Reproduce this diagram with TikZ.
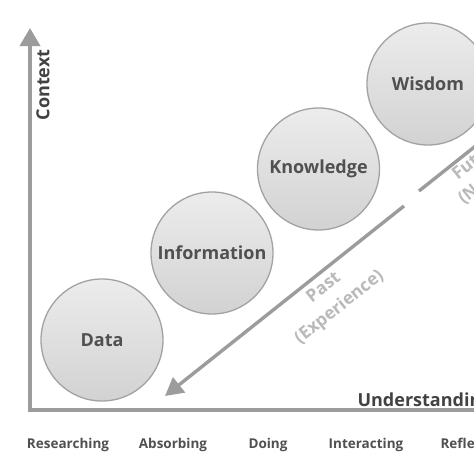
\documentclass[tikz,border=0pt]{standalone}
\usepackage{fontspec}
\setmainfont{Open Sans}
\usetikzlibrary{arrows.meta}
\definecolor{axisgray}{HTML}{9C9C9C}
\definecolor{circborder}{HTML}{A2A2A2}
\definecolor{circtop}{HTML}{ECECEC}
\definecolor{circbot}{HTML}{D2D2D2}
\definecolor{labeltext}{HTML}{505050}
\definecolor{axistext}{HTML}{424242}
\definecolor{timetext}{HTML}{BABABA}
\tikzset{
  level/.style={circle, draw=circborder, line width=1.3pt, top color=circtop, bottom color=circbot,
    minimum size=122pt, inner sep=0pt, font=\fontsize{18}{21}\selectfont\bfseries, text=labeltext},
  axisline/.style={draw=axisgray, line width=3.6pt},
  diagline/.style={draw=axisgray, line width=3.4pt},
  steplabel/.style={font=\fontsize{13.5}{16}\selectfont\bfseries, text=labeltext},
  axislabel/.style={font=\fontsize{18}{21}\selectfont\bfseries, text=axistext},
  timelabel/.style={font=\fontsize{17.5}{25}\selectfont\bfseries, text=timetext, align=center, rotate=38.5}
}
\begin{document}
\begin{tikzpicture}[x=1pt,y=-1pt]
\useasboundingbox (0,0) rectangle (474,474);
\fill[white] (0,0) rectangle (474,474);
\clip (0,0) rectangle (474,474);
% axes
\coordinate (origin) at (30,410);
\coordinate (ytop) at (30,28);
\coordinate (xend) at (500,410);
\draw[axisline, -{Triangle[length=18pt,width=20pt]}] (origin) -- (ytop);
\draw[axisline] ([xshift=-1.8pt]origin) -- (xend);
\node[axislabel, rotate=90] (ctx) at (43,85) {Context};
\node[axislabel, anchor=base west] (und) at (354,406) {Understanding};
% circles
\node[level] (data) at (102,340) {Data};
\node[level] (info) at (212,253) {Information};
\node[level] (know) at (318.5,169) {Knowledge};
\node[level] (wis) at (428,84) {Wisdom};
% diagonal
\coordinate (pastStart) at (404,206);
\coordinate (pastEnd) at (165,396);
\coordinate (futStart) at (419,191);
\coordinate (futEnd) at (510,118.6);
\draw[diagline, -{Triangle[length=18pt,width=19pt]}] (pastStart) -- (pastEnd);
\draw[diagline] (futStart) -- (futEnd);
\node[timelabel] (past) at (332,298) {Past\\(Experience)};
\node[timelabel, anchor=base west] (fut1) at (455,183) {Future};
\node[timelabel, anchor=base west] (fut2) at (461,207) {(Now)};
% bottom labels
\node[steplabel] (s1) at (68,445) {Researching};
\node[steplabel] (s2) at (173,445) {Absorbing};
\node[steplabel] (s3) at (268,445) {Doing};
\node[steplabel] (s4) at (366,445) {Interacting};
\node[steplabel, anchor=west] (s5) at (437,445) {Reflecting};
\end{tikzpicture}
\end{document}
